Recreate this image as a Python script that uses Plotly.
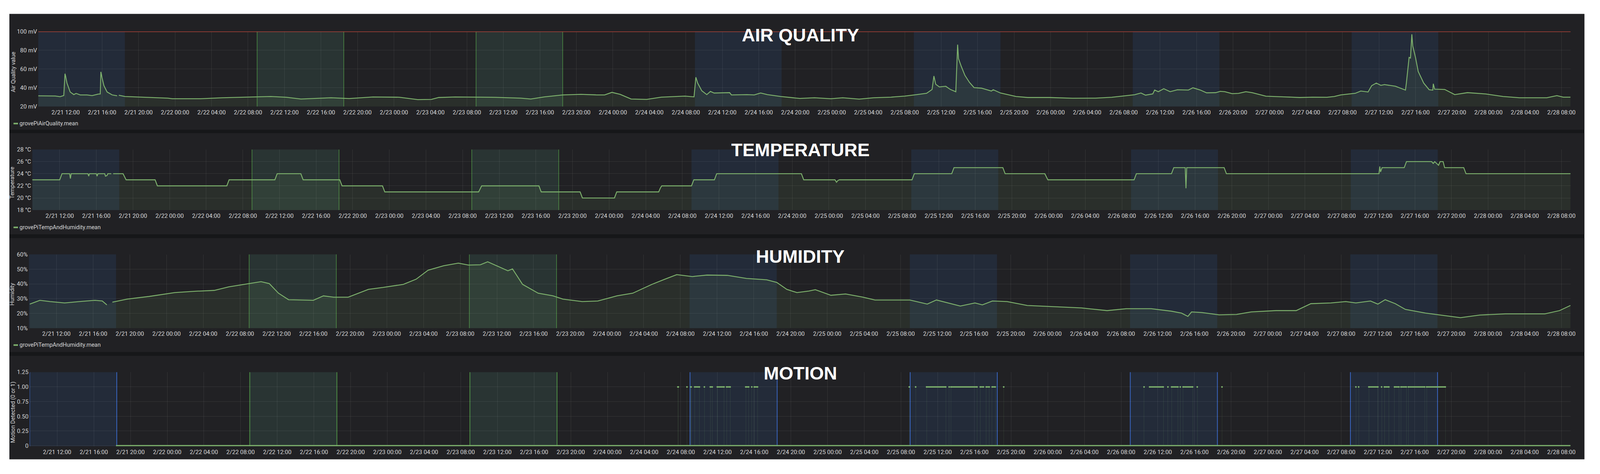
import plotly.graph_objects as go

# reference picture size and the browser's CSS viewport it is photographed from
W, H = 4255, 1214
VIEW_W, VIEW_H = 4096, 1214
BODY_MARGIN = 8  # default page margin (CSS px) around the plot div

# ------------------------------------------------------------------ data
x_range = ["2020-02-21 09:00", "2020-02-28 09:00"]
x_tick0 = "2020-02-21 12:00"

aq_time = [
    "2020-02-21 09:00", "2020-02-21 10:52", "2020-02-21 11:24", "2020-02-21 11:48", "2020-02-21 11:56",
    "2020-02-21 12:00", "2020-02-21 12:09", "2020-02-21 12:30", "2020-02-21 12:54", "2020-02-21 13:09",
    "2020-02-21 13:36", "2020-02-21 14:21", "2020-02-21 14:54", "2020-02-21 15:36", "2020-02-21 15:48",
    "2020-02-21 15:52", "2020-02-21 16:00", "2020-02-21 16:12", "2020-02-21 16:33", "2020-02-21 17:06",
    "2020-02-21 17:39", "2020-02-21 17:43", "2020-02-21 17:50", "2020-02-21 18:30", "2020-02-21 20:24",
    "2020-02-21 23:12", "2020-02-21 23:42", "2020-02-22 02:48", "2020-02-22 05:12", "2020-02-22 08:00",
    "2020-02-22 09:24", "2020-02-22 10:30", "2020-02-22 12:12", "2020-02-22 13:48", "2020-02-22 17:06",
    "2020-02-22 19:06", "2020-02-22 21:42", "2020-02-23 00:36", "2020-02-23 02:36", "2020-02-23 04:06",
    "2020-02-23 04:54", "2020-02-23 06:42", "2020-02-23 10:42", "2020-02-23 13:54", "2020-02-23 15:00",
    "2020-02-23 16:30", "2020-02-23 18:30", "2020-02-23 20:30", "2020-02-23 22:12", "2020-02-23 23:06",
    "2020-02-23 23:54", "2020-02-24 00:48", "2020-02-24 02:00", "2020-02-24 03:42", "2020-02-24 05:18",
    "2020-02-24 07:54", "2020-02-24 08:54", "2020-02-24 09:06", "2020-02-24 09:18", "2020-02-24 09:45",
    "2020-02-24 10:18", "2020-02-24 10:42", "2020-02-24 11:06", "2020-02-24 12:48", "2020-02-24 13:00",
    "2020-02-24 14:42", "2020-02-24 15:30", "2020-02-24 16:12", "2020-02-24 16:57", "2020-02-24 18:24",
    "2020-02-24 20:30", "2020-02-24 22:06", "2020-02-24 23:54", "2020-02-25 01:12", "2020-02-25 03:00",
    "2020-02-25 04:36", "2020-02-25 06:30", "2020-02-25 08:00", "2020-02-25 09:18", "2020-02-25 10:24",
    "2020-02-25 11:00", "2020-02-25 11:12", "2020-02-25 11:24", "2020-02-25 11:48", "2020-02-25 12:30",
    "2020-02-25 13:00", "2020-02-25 13:36", "2020-02-25 13:45", "2020-02-25 13:48", "2020-02-25 13:54",
    "2020-02-25 14:12", "2020-02-25 14:36", "2020-02-25 15:06", "2020-02-25 15:36", "2020-02-25 16:24",
    "2020-02-25 17:30", "2020-02-25 17:42", "2020-02-25 18:30", "2020-02-25 19:12", "2020-02-25 20:12",
    "2020-02-25 21:30", "2020-02-25 23:54", "2020-02-26 02:24", "2020-02-26 04:54", "2020-02-26 06:42",
    "2020-02-26 07:54", "2020-02-26 09:12", "2020-02-26 09:54", "2020-02-26 10:24", "2020-02-26 11:12",
    "2020-02-26 11:24", "2020-02-26 11:48", "2020-02-26 12:24", "2020-02-26 13:06", "2020-02-26 13:54",
    "2020-02-26 15:06", "2020-02-26 15:36", "2020-02-26 16:24", "2020-02-26 17:06", "2020-02-26 18:06",
    "2020-02-26 18:36", "2020-02-26 19:06", "2020-02-26 19:54", "2020-02-26 20:36", "2020-02-26 21:24",
    "2020-02-26 22:06", "2020-02-26 23:36", "2020-02-27 01:36", "2020-02-27 03:18", "2020-02-27 04:42",
    "2020-02-27 06:18", "2020-02-27 07:06", "2020-02-27 07:48", "2020-02-27 09:24", "2020-02-27 10:00",
    "2020-02-27 10:48", "2020-02-27 11:12", "2020-02-27 11:42", "2020-02-27 12:12", "2020-02-27 12:36",
    "2020-02-27 13:48", "2020-02-27 14:54", "2020-02-27 15:00", "2020-02-27 15:18", "2020-02-27 15:27",
    "2020-02-27 15:36", "2020-02-27 15:42", "2020-02-27 16:00", "2020-02-27 16:18", "2020-02-27 16:54",
    "2020-02-27 17:30", "2020-02-27 17:54", "2020-02-27 17:57", "2020-02-27 18:06", "2020-02-27 19:12",
    "2020-02-27 20:18", "2020-02-27 21:42", "2020-02-27 23:42", "2020-02-28 01:36", "2020-02-28 03:24",
    "2020-02-28 06:24", "2020-02-28 07:30", "2020-02-28 08:12", "2020-02-28 09:00",
]
aq_value = [
    31.4, 31.2, 30.5, 31.7, 55.0,
    52.5, 45.0, 35.5, 32.7, 34.0,
    32.4, 32.4, 31.6, 33.3, 33.4,
    57.0, 50.5, 42.3, 35.5, 32.4,
    31.4, None, 32.0, 30.7, 30.0,
    28.9, 28.3, 28.3, 29.3, 30.0,
    30.4, 30.7, 29.9, 28.0, 29.3,
    28.5, 30.2, 29.9, 27.4, 27.6,
    29.6, 30.2, 29.9, 28.9, 28.0,
    30.3, 32.4, 33.0, 32.4, 32.4,
    35.1, 33.0, 28.0, 27.6, 30.0,
    31.1, 30.3, 51.2, 45.0, 36.8,
    32.7, 36.1, 34.4, 34.8, 32.4,
    32.7, 32.4, 34.4, 32.7, 30.7,
    28.6, 29.3, 28.3, 29.3, 27.9,
    29.3, 30.0, 31.1, 32.7, 34.1,
    38.2, 52.5, 43.7, 40.9, 41.6,
    38.2, 35.7, 72.4, 86.0, 71.0,
    62.8, 53.2, 45.7, 40.2, 39.6,
    36.5, 37.9, 34.4, 33.0, 30.7,
    29.6, 29.6, 28.8, 28.9, 29.9,
    31.3, 32.6, 34.4, 32.1, 33.5,
    37.6, 35.8, 39.0, 35.8, 37.9,
    37.6, 40.0, 37.6, 34.6, 34.8,
    36.2, 35.8, 33.7, 34.0, 35.8,
    34.8, 31.0, 30.3, 29.6, 30.0,
    29.9, 30.7, 32.4, 34.1, 36.5,
    35.5, 42.3, 45.0, 42.6, 43.4,
    41.6, 37.5, 45.0, 72.4, 71.7,
    97.0, 84.7, 72.4, 57.3, 45.0,
    37.9, 37.5, 44.3, 38.5, 38.2,
    32.7, 34.8, 33.4, 30.7, 29.3,
    29.3, 31.6, 30.0, 30.0,
]

temp_time = [
    "2020-02-21 09:00", "2020-02-21 12:00", "2020-02-21 12:15", "2020-02-21 13:05", "2020-02-21 13:10",
    "2020-02-21 13:15", "2020-02-21 15:05", "2020-02-21 15:10", "2020-02-21 15:15", "2020-02-21 16:00",
    "2020-02-21 16:05", "2020-02-21 16:10", "2020-02-21 16:55", "2020-02-21 17:00", "2020-02-21 17:10",
    "2020-02-21 17:15", "2020-02-21 17:38", "2020-02-21 17:43", "2020-02-21 17:50", "2020-02-21 18:55",
    "2020-02-21 19:15", "2020-02-21 22:25", "2020-02-21 22:40", "2020-02-22 06:15", "2020-02-22 06:30",
    "2020-02-22 11:30", "2020-02-22 11:45", "2020-02-22 14:20", "2020-02-22 14:35", "2020-02-22 18:35",
    "2020-02-22 18:50", "2020-02-22 23:15", "2020-02-22 23:30", "2020-02-23 09:45", "2020-02-23 10:05",
    "2020-02-23 16:20", "2020-02-23 16:35", "2020-02-23 20:50", "2020-02-23 21:05", "2020-02-24 00:35",
    "2020-02-24 00:50", "2020-02-24 05:25", "2020-02-24 05:35", "2020-02-24 05:45", "2020-02-24 09:00",
    "2020-02-24 09:15", "2020-02-24 11:30", "2020-02-24 11:45", "2020-02-24 21:00", "2020-02-24 21:15",
    "2020-02-25 00:40", "2020-02-25 00:50", "2020-02-25 01:00", "2020-02-25 01:10", "2020-02-25 09:05",
    "2020-02-25 09:20", "2020-02-25 13:25", "2020-02-25 13:40", "2020-02-25 19:00", "2020-02-25 19:15",
    "2020-02-25 23:35", "2020-02-25 23:55", "2020-02-26 09:20", "2020-02-26 09:35", "2020-02-26 13:25",
    "2020-02-26 13:40", "2020-02-26 14:55", "2020-02-26 15:00", "2020-02-26 15:05", "2020-02-26 19:10",
    "2020-02-26 19:25", "2020-02-27 12:05", "2020-02-27 12:10", "2020-02-27 12:15", "2020-02-27 12:25",
    "2020-02-27 14:50", "2020-02-27 15:05", "2020-02-27 17:50", "2020-02-27 18:00", "2020-02-27 18:10",
    "2020-02-27 18:35", "2020-02-27 18:45", "2020-02-27 19:05", "2020-02-27 19:15", "2020-02-27 21:20",
    "2020-02-27 21:35", "2020-02-28 09:00",
]
temp_value = [
    23.0, 23.0, 24.0, 24.0, 23.2,
    24.0, 24.0, 23.6, 24.0, 24.0,
    23.6, 24.0, 24.0, 23.6, 23.7,
    24.0, 24.0, None, 24.0, 24.0,
    23.0, 23.0, 22.0, 22.0, 23.0,
    23.0, 24.0, 24.0, 23.0, 23.0,
    22.0, 22.0, 21.0, 21.0, 22.0,
    22.0, 21.0, 21.0, 20.0, 20.0,
    21.0, 21.0, 21.6, 22.0, 22.0,
    23.0, 23.0, 24.0, 24.0, 23.0,
    23.0, 22.6, 22.9, 23.0, 23.0,
    24.0, 24.0, 25.0, 25.0, 24.0,
    24.0, 23.0, 23.0, 24.0, 24.0,
    25.0, 25.0, 21.6, 25.0, 25.0,
    24.0, 24.0, 25.2, 24.3, 25.0,
    25.0, 26.0, 26.0, 25.7, 26.0,
    25.4, 26.0, 26.0, 25.0, 25.0,
    24.0, 24.0,
]

hum_time = [
    "2020-02-21 09:06", "2020-02-21 10:12", "2020-02-21 11:18", "2020-02-21 12:54", "2020-02-21 14:30",
    "2020-02-21 16:12", "2020-02-21 17:00", "2020-02-21 17:30", "2020-02-21 17:43", "2020-02-21 18:06",
    "2020-02-21 19:42", "2020-02-21 22:06", "2020-02-22 00:54", "2020-02-22 03:00", "2020-02-22 05:12",
    "2020-02-22 06:48", "2020-02-22 09:00", "2020-02-22 10:18", "2020-02-22 11:12", "2020-02-22 12:12",
    "2020-02-22 13:18", "2020-02-22 16:00", "2020-02-22 17:06", "2020-02-22 18:12", "2020-02-22 19:48",
    "2020-02-22 22:00", "2020-02-22 23:36", "2020-02-23 01:48", "2020-02-23 03:12", "2020-02-23 04:30",
    "2020-02-23 06:12", "2020-02-23 07:48", "2020-02-23 08:54", "2020-02-23 10:12", "2020-02-23 11:00",
    "2020-02-23 12:24", "2020-02-23 13:12", "2020-02-23 13:42", "2020-02-23 14:48", "2020-02-23 16:30",
    "2020-02-23 18:06", "2020-02-23 19:12", "2020-02-23 21:18", "2020-02-23 23:00", "2020-02-24 01:06",
    "2020-02-24 02:48", "2020-02-24 04:54", "2020-02-24 06:18", "2020-02-24 07:36", "2020-02-24 09:18",
    "2020-02-24 10:54", "2020-02-24 13:06", "2020-02-24 15:12", "2020-02-24 17:24", "2020-02-24 18:30",
    "2020-02-24 19:36", "2020-02-24 20:42", "2020-02-24 22:00", "2020-02-24 22:42", "2020-02-25 00:24",
    "2020-02-25 02:00", "2020-02-25 03:54", "2020-02-25 05:12", "2020-02-25 09:00", "2020-02-25 10:54",
    "2020-02-25 11:54", "2020-02-25 14:30", "2020-02-25 16:06", "2020-02-25 16:54", "2020-02-25 18:00",
    "2020-02-25 19:36", "2020-02-25 21:48", "2020-02-26 01:00", "2020-02-26 03:42", "2020-02-26 06:30",
    "2020-02-26 08:36", "2020-02-26 11:18", "2020-02-26 13:30", "2020-02-26 14:36", "2020-02-26 15:18",
    "2020-02-26 15:42", "2020-02-26 16:48", "2020-02-26 18:42", "2020-02-26 20:36", "2020-02-26 22:12",
    "2020-02-27 00:54", "2020-02-27 03:06", "2020-02-27 04:42", "2020-02-27 06:54", "2020-02-27 08:30",
    "2020-02-27 09:36", "2020-02-27 11:12", "2020-02-27 12:00", "2020-02-27 12:48", "2020-02-27 13:54",
    "2020-02-27 15:00", "2020-02-27 17:12", "2020-02-27 18:48", "2020-02-27 21:00", "2020-02-27 23:06",
    "2020-02-28 01:54", "2020-02-28 06:12", "2020-02-28 07:48", "2020-02-28 09:00",
]
hum_value = [
    26.3, 28.9, 28.0, 27.1, 28.0,
    28.9, 28.4, 25.8, None, 27.6,
    29.7, 31.5, 34.1, 35.0, 35.6,
    38.0, 40.2, 41.5, 40.2, 33.7,
    29.3, 28.9, 31.9, 31.0, 31.0,
    36.3, 37.6, 39.7, 43.2, 49.3,
    52.3, 54.1, 52.8, 53.0, 55.0,
    51.0, 48.9, 50.2, 39.7, 33.7,
    31.9, 29.7, 28.0, 28.4, 31.9,
    33.7, 39.7, 43.2, 46.3, 45.0,
    46.0, 45.8, 43.7, 42.8, 41.0,
    36.3, 34.1, 35.2, 36.1, 32.3,
    33.2, 31.0, 29.1, 29.1, 26.3,
    29.1, 25.0, 27.1, 25.8, 28.4,
    28.0, 25.4, 24.5, 23.7, 21.9,
    23.2, 23.2, 21.5, 20.2, 18.0,
    21.0, 20.6, 19.0, 19.3, 21.0,
    21.9, 21.9, 26.6, 27.1, 28.0,
    27.1, 28.4, 26.3, 29.3, 26.6,
    22.7, 20.2, 18.9, 17.1, 18.9,
    19.7, 19.7, 21.9, 25.4,
]

motion_zero_time = ["2020-02-21 18:25", "2020-02-28 09:00"]
motion_zero_value = [0, 0]
motion_on_start = [
    "2020-02-24 07:40", "2020-02-24 08:40", "2020-02-24 09:05", "2020-02-24 09:30", "2020-02-24 10:34",
    "2020-02-24 11:12", "2020-02-24 11:58", "2020-02-24 12:59", "2020-02-24 15:04", "2020-02-24 15:44",
    "2020-02-24 16:00",
    "2020-02-25 08:54", "2020-02-25 09:36", "2020-02-25 10:47", "2020-02-25 13:15", "2020-02-25 13:26",
    "2020-02-25 16:38", "2020-02-25 17:17", "2020-02-25 17:56", "2020-02-25 19:12",
    "2020-02-26 10:30", "2020-02-26 11:06", "2020-02-26 13:06", "2020-02-26 13:30", "2020-02-26 14:27",
    "2020-02-26 14:45", "2020-02-26 16:18", "2020-02-26 19:00",
    "2020-02-27 09:36", "2020-02-27 09:54", "2020-02-27 11:00", "2020-02-27 12:24", "2020-02-27 12:42",
    "2020-02-27 13:48", "2020-02-27 14:30", "2020-02-27 15:18", "2020-02-27 17:18",
]
motion_on_end = [
    "2020-02-24 07:44", "2020-02-24 08:40", "2020-02-24 09:08", "2020-02-24 10:02", "2020-02-24 10:34",
    "2020-02-24 11:26", "2020-02-24 12:43", "2020-02-24 13:23", "2020-02-24 15:24", "2020-02-24 15:44",
    "2020-02-24 16:22",
    "2020-02-25 08:54", "2020-02-25 09:36", "2020-02-25 12:53", "2020-02-25 13:15", "2020-02-25 16:18",
    "2020-02-25 17:00", "2020-02-25 17:38", "2020-02-25 18:17", "2020-02-25 19:12",
    "2020-02-26 10:30", "2020-02-26 12:36", "2020-02-26 13:06", "2020-02-26 14:12", "2020-02-26 14:27",
    "2020-02-26 15:48", "2020-02-26 16:18", "2020-02-26 19:00",
    "2020-02-27 09:36", "2020-02-27 09:54", "2020-02-27 12:00", "2020-02-27 12:24", "2020-02-27 13:12",
    "2020-02-27 14:18", "2020-02-27 15:06", "2020-02-27 17:06", "2020-02-27 19:21",
]

region_days = ["2020-02-21", "2020-02-22", "2020-02-23", "2020-02-24", "2020-02-25", "2020-02-26", "2020-02-27"]
region_kind = ["weekday", "weekend", "weekend", "weekday", "weekday", "weekday", "weekday"]
region_from, region_to = "09:00", "18:30"

aq_ticks = [20, 40, 60, 80, 100]
aq_threshold = 100
temp_ticks = [18, 20, 22, 24, 26, 28]
hum_ticks = [10, 20, 30, 40, 50, 60]
motion_ticks = [0, 0.25, 0.5, 0.75, 1.0, 1.25]
motion_ticktext = ["0", "0.25", "0.50", "0.75", "1.00", "1.25"]

# ------------------------------------------------------------------ styling / layout (reference pixels)
GREEN = "#7eb26d"
FILL = "rgba(126,178,109,0.10)"
TXT = "#d8d9da"
GRID = "rgba(255,255,255,0.09)"
BLUE_REG = "rgba(50,116,217,0.12)"
BLUE_EDGE = "rgba(61,113,217,0.85)"
GREEN_REG = "rgba(95,190,165,0.12)"
GREEN_EDGE = "rgba(86,166,75,0.8)"
TICKFONT = dict(family="Roboto", size=15, color=TXT)

SX = VIEW_W / W  # CSS px per reference px (horizontal)
SY = VIEW_H / H
FW = VIEW_W - 2 * BODY_MARGIN
FH = VIEW_H - 2 * BODY_MARGIN


def fx(p):
    return (p * SX - BODY_MARGIN) / FW


def fy(p):
    return 1 - (p * SY - BODY_MARGIN) / FH


panels = [
    dict(top=27, bottom=328, l=102, r=4190, pt=72.7, pb=267.7, title="AIR QUALITY", ty=82,
         ytitle="Air Quality value", ytx=36, legend="grovePiAirQuality.mean", ly=312),
    dict(top=337, bottom=600, l=86, r=4190, pt=379.5, pb=537, title="TEMPERATURE", ty=380,
         ytitle="Temperature", ytx=33, legend="grovePiTempAndHumidity.mean", ly=582),
    dict(top=610, bottom=906, l=77, r=4190, pt=652.3, pb=844, title="HUMIDITY", ty=657,
         ytitle="Humidity", ytx=33, legend="grovePiTempAndHumidity.mean", ly=888),
    dict(top=916, bottom=1185, l=79, r=4190, pt=958.5, pb=1151, title="MOTION", ty=961,
         ytitle="Motion Detected (0 or 1)", ytx=35, legend=None, ly=None),
]

fig = go.Figure()

line_kw = dict(mode="lines", line=dict(color=GREEN, width=2.3), fill="tozeroy", fillcolor=FILL,
               connectgaps=False, hoverinfo="skip", showlegend=False)
fig.add_trace(go.Scatter(x=aq_time, y=aq_value, xaxis="x", yaxis="y", **line_kw))
fig.add_trace(go.Scatter(x=temp_time, y=temp_value, xaxis="x2", yaxis="y2", **line_kw))
fig.add_trace(go.Scatter(x=hum_time, y=hum_value, xaxis="x3", yaxis="y3", **line_kw))

# motion: faint strips where motion was detected
strip_x = []
for s, e in zip(motion_on_start, motion_on_end):
    strip_x.append(s)
    if e != s:
        strip_x.append(e)
fig.add_trace(go.Bar(x=strip_x, y=[1] * len(strip_x), width=[150000] * len(strip_x),
                     marker=dict(color="rgba(126,178,109,0.16)", line=dict(width=0)),
                     xaxis="x4", yaxis="y4", hoverinfo="skip", showlegend=False))
fig.add_trace(go.Scatter(x=motion_zero_time, y=motion_zero_value, xaxis="x4", yaxis="y4",
                         mode="lines", line=dict(color=GREEN, width=3.5),
                         hoverinfo="skip", showlegend=False))
on_x, on_y = [], []
for s, e in zip(motion_on_start, motion_on_end):
    on_x += [s, e, None]
    on_y += [1, 1, None]
fig.add_trace(go.Scatter(x=on_x, y=on_y, xaxis="x4", yaxis="y4", mode="lines+markers",
                         line=dict(color=GREEN, width=3.5), marker=dict(color=GREEN, size=4),
                         hoverinfo="skip", showlegend=False))

shapes = []
annotations = []

# page background and panels
shapes.append(dict(type="rect", xref="paper", yref="paper", x0=fx(25), x1=fx(4227), y0=fy(1185), y1=fy(27),
                   fillcolor="#161719", line=dict(width=0), layer="below"))
for p in panels:
    shapes.append(dict(type="rect", xref="paper", yref="paper", x0=fx(25), x1=fx(4227),
                       y0=fy(p["bottom"]), y1=fy(p["top"]), fillcolor="#212124", line=dict(width=0),
                       layer="below"))

layout_axes = {}
yspecs = [
    dict(range=[20, 100], tickvals=aq_ticks, ticktext=[f"{v} mV" for v in aq_ticks]),
    dict(range=[18, 28], tickvals=temp_ticks, ticktext=[f"{v} °C" for v in temp_ticks]),
    dict(range=[10, 60], tickvals=hum_ticks, ticktext=[f"{v}%" for v in hum_ticks]),
    dict(range=[-0.008, 1.25], tickvals=motion_ticks, ticktext=motion_ticktext),
]
for i, (p, ys) in enumerate(zip(panels, yspecs)):
    n = "" if i == 0 else str(i + 1)
    layout_axes["xaxis" + n] = dict(
        type="date", range=x_range, domain=[fx(p["l"]), fx(p["r"])], anchor="y" + n,
        tick0=x_tick0, dtick=4 * 3600 * 1000, tickformat="%-m/%d %H:%M",
        showgrid=True, gridcolor=GRID, gridwidth=1, zeroline=False, showline=False,
        ticks="", tickfont=TICKFONT, ticklabelstandoff=4, fixedrange=True)
    layout_axes["yaxis" + n] = dict(
        range=ys["range"], tickvals=ys["tickvals"], ticktext=ys["ticktext"],
        domain=[fy(p["pb"]), fy(p["pt"])], anchor="x" + n,
        showgrid=True, gridcolor=GRID, gridwidth=1, zeroline=False, showline=False,
        ticks="", tickfont=TICKFONT, ticklabelstandoff=2, fixedrange=True)

    for day, kind in zip(region_days, region_kind):
        x0 = f"{day} {region_from}"
        x1 = f"{day} {region_to}"
        col = BLUE_REG if kind == "weekday" else GREEN_REG
        shapes.append(dict(type="rect", xref="x" + n, yref=f"y{n} domain", x0=x0, x1=x1, y0=0, y1=1,
                           fillcolor=col, line=dict(width=0), layer="below"))
        edge = None
        if kind == "weekend":
            edge = GREEN_EDGE
        elif i == 3:
            edge = BLUE_EDGE
        if edge:
            for xe in (x0, x1):
                shapes.append(dict(type="line", xref="x" + n, yref=f"y{n} domain", x0=xe, x1=xe,
                                   y0=0, y1=1, line=dict(color=edge, width=2 if i == 3 else 1.5),
                                   layer="below"))

    annotations.append(dict(xref="paper", yref="paper", x=fx(2135), y=fy(p["ty"]), text=p["title"],
                            showarrow=False, xanchor="center", yanchor="middle",
                            font=dict(family="Liberation Sans, Arial", size=47, color="#ffffff",
                                      weight="bold")))
    annotations.append(dict(xref="paper", yref="paper", x=fx(p["ytx"]),
                            y=fy((p["pt"] + p["pb"]) / 2 + 8), text=p["ytitle"], textangle=-90,
                            showarrow=False, xanchor="center", yanchor="middle",
                            font=dict(family="Roboto", size=14.5, color=TXT)))
    if p["legend"]:
        shapes.append(dict(type="rect", xref="paper", yref="paper", x0=fx(36), x1=fx(48),
                           y0=fy(p["ly"] + 2), y1=fy(p["ly"] - 2), fillcolor=GREEN, line=dict(width=0)))
        annotations.append(dict(xref="paper", yref="paper", x=fx(50), y=fy(p["ly"]), text=p["legend"],
                                showarrow=False, xanchor="left", yanchor="middle",
                                font=dict(family="Roboto", size=14.5, color=TXT)))

shapes.append(dict(type="line", xref="x domain", yref="y", x0=0, x1=1, y0=aq_threshold, y1=aq_threshold,
                   line=dict(color="#c4493c", width=2.5)))

fig.update_layout(
    autosize=True,
    margin=dict(l=0, r=0, t=0, b=0, pad=0),
    paper_bgcolor="#ffffff", plot_bgcolor="rgba(0,0,0,0)",
    showlegend=False, bargap=0, barmode="overlay",
    shapes=shapes, annotations=annotations,
    **layout_axes,
)

fig.write_html("out.html", config={"displayModeBar": False, "responsive": True},
               default_width=f"calc(100vw - {2 * BODY_MARGIN}px)",
               default_height=f"calc(100vh - {2 * BODY_MARGIN}px)")
